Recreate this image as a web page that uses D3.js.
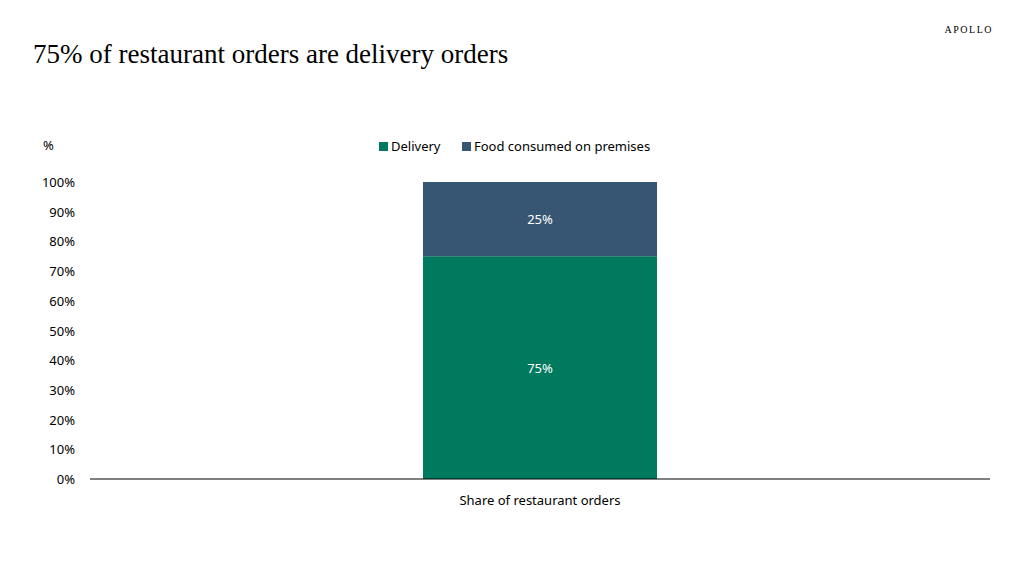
<!DOCTYPE html>
<meta charset="utf-8">
<style>
body { margin: 0; background: #fff; }
text { font-family: "Noto Sans", sans-serif; fill: #000; }
</style>
<body>
<div id="chart"></div>
<script src="https://cdn.jsdelivr.net/npm/d3@7"></script>
<script>
  var categories = ["Share of restaurant orders"];
  var seriesNames = ["Delivery", "Food consumed on premises"];
  var delivery = [75];
  var premises = [25];
  var yTicks = [0, 10, 20, 30, 40, 50, 60, 70, 80, 90, 100];
  var colors = ["#007a5e", "#375673"];

  var width = 1024, height = 576;
  var svg = d3.select("#chart").append("svg")
      .attr("width", width).attr("height", height);

  svg.append("text").attr("x", 33).attr("y", 63)
      .style("font-family", "Liberation Serif, serif").style("font-size", "27px")
      .text("75% of restaurant orders are delivery orders");
  svg.append("text").attr("x", 993).attr("y", 33).attr("text-anchor", "end")
      .style("font-family", "Liberation Serif, serif").style("font-size", "10px")
      .style("letter-spacing", "1.5px").text("APOLLO");

  var x = d3.scaleBand().domain(categories).range([90, 990]).paddingInner(0).paddingOuter(1.423);
  var y = d3.scaleLinear().domain([0, 100]).range([479, 182]);

  var stack = d3.stack().keys([0, 1]).value(function(d, k) { return d[k]; });
  var rows = categories.map(function(c, i) { var r = [delivery[i], premises[i]]; r.cat = c; return r; });
  var layers = stack(rows);

  layers.forEach(function(layer, k) {
    var g = svg.append("g");
    g.selectAll("rect").data(layer).enter().append("rect")
      .attr("x", function(d) { return x(d.data.cat); })
      .attr("width", x.bandwidth())
      .attr("y", function(d) { return y(d[1]); })
      .attr("height", function(d) { return y(d[0]) - y(d[1]); })
      .attr("fill", colors[k]);
    g.selectAll("text").data(layer).enter().append("text")
      .attr("x", function(d) { return x(d.data.cat) + x.bandwidth() / 2; })
      .attr("y", function(d) { return (y(d[0]) + y(d[1])) / 2 + 5; })
      .attr("text-anchor", "middle").style("font-size", "13px").style("fill", "#fff")
      .text(function(d) { return (d[1] - d[0]) + "%"; });
  });

  svg.selectAll(".yt").data(yTicks).enter().append("text")
    .attr("x", 75).attr("y", function(d) { return y(d) + 5; })
    .attr("text-anchor", "end").style("font-size", "13px")
    .text(function(d) { return d + "%"; });
  svg.append("text").attr("x", 43).attr("y", 150).style("font-size", "13px").text("%");

  svg.append("line").attr("x1", 90).attr("x2", 990).attr("y1", 479).attr("y2", 479)
    .attr("stroke", "#000").attr("stroke-width", 1);
  svg.append("text").attr("x", x(categories[0]) + x.bandwidth() / 2).attr("y", 505)
    .attr("text-anchor", "middle").style("font-size", "13px").text(categories[0]);

  var legX = [379, 462];
  seriesNames.forEach(function(n, i) {
    svg.append("rect").attr("x", legX[i]).attr("y", 142).attr("width", 9).attr("height", 9).attr("fill", colors[i]);
    svg.append("text").attr("x", legX[i] + 12).attr("y", 151).style("font-size", "13px").text(n);
  });
</script>
</body>
</html>
